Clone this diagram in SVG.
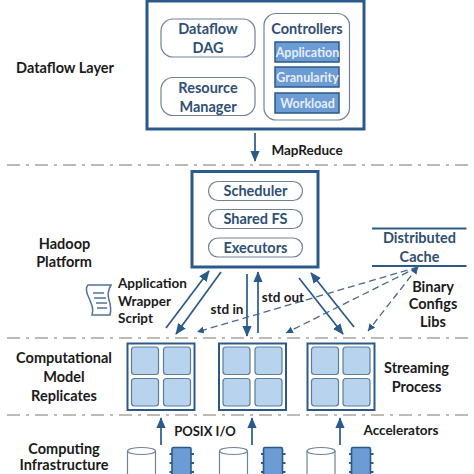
<svg xmlns="http://www.w3.org/2000/svg" width="474" height="474" viewBox="0 0 474 474">
<style>
text{font-family:Lato,"Liberation Sans",sans-serif;font-weight:700;text-anchor:middle}
.k{fill:#1a1a1a;font-size:14.5px}
.s{fill:#1a1a1a;font-size:13.5px}
.b{fill:#2f4f74;font-size:14.5px}
.w{fill:#e4eefa;font-size:12.5px}
.div{fill:none;stroke:#a8a29c;stroke-width:1.6;stroke-dasharray:13 6 3 6}
.big{fill:#fff;stroke:#2a5a8a;stroke-width:3}
.rr{fill:#fff;stroke:#6f8398;stroke-width:1.2}
.ctl{fill:#6d9bd3;stroke:#2a5a8a;stroke-width:1.5}
.cell{fill:#b8d3ee;stroke:#5d7d9c;stroke-width:1.2}
.gbox{fill:#fff;stroke:#2a5a8a;stroke-width:2}
.ln{fill:none;stroke:#2a5a8a;stroke-width:1.7}
.ds{fill:none;stroke:#4a6a8a;stroke-width:1.3;stroke-dasharray:7 4}
.cyl{fill:#fff;stroke:#6f8398;stroke-width:1.2}
.chip{fill:#6d9bd3;stroke:#2a5a8a;stroke-width:1.6}
.pin{stroke:#2a5a8a;stroke-width:1.8}
</style>
<defs>
<marker id="a" markerUnits="userSpaceOnUse" markerWidth="11" markerHeight="15" refX="12" refY="5.5" orient="auto" viewBox="0 0 13 11"><path d="M0 0L13 5.5L0 11z" fill="#2a5a8a"/></marker>
<marker id="d" markerUnits="userSpaceOnUse" markerWidth="7" markerHeight="7" refX="6" refY="3" orient="auto" viewBox="0 0 6 6"><path d="M0 0L6 3L0 6z" fill="#2a5a8a"/></marker>
<marker id="ds" markerUnits="userSpaceOnUse" markerWidth="7" markerHeight="7" refX="0" refY="3" orient="auto" viewBox="0 0 6 6"><path d="M6 0L0 3L6 6z" fill="#2a5a8a"/></marker>
</defs>
<g id="dividers">
<path class="div" d="M7 165H474M7 338H474M7 415H474"/>
</g>
<g id="dataflow-layer">
<rect class="big" x="147" y="1" width="217" height="128"/>
<text class="k" x="65" y="73">Dataflow Layer</text>
</g>
<g id="dataflow-dag">
<rect class="rr" x="161" y="19" width="94" height="38" rx="12"/>
<text class="b" x="208" y="34">Dataflow</text><text class="b" x="208" y="53">DAG</text>
</g>
<g id="resource-manager">
<rect class="rr" x="161" y="77.500" width="94" height="38" rx="12"/>
<text class="b" x="208" y="92.500">Resource</text><text class="b" x="208" y="111.500">Manager</text>
</g>
<g id="controllers">
<rect class="rr" x="264" y="13.500" width="85.500" height="106.500" rx="12"/>
<text class="b" x="307" y="34">Controllers</text>
<rect class="ctl" x="275" y="42" width="64" height="20"/><text class="w" x="307.500" y="57">Application</text>
<rect class="ctl" x="275" y="67" width="64" height="20"/><text class="w" x="307.500" y="82">Granularity</text>
<rect class="ctl" x="275" y="93" width="64" height="20"/><text class="w" x="307.500" y="108">Workload</text>
</g>
<g id="hadoop-platform">
<rect class="big" x="192" y="171.500" width="126" height="95.500"/>
<text class="k" x="64.500" y="249">Hadoop</text><text class="k" x="64" y="267">Platform</text>
</g>
<g id="scheduler"><rect class="rr" x="208.500" y="181.500" width="94" height="19" rx="9.500"/><text class="b" x="255.500" y="196">Scheduler</text></g>
<g id="shared-fs"><rect class="rr" x="208.500" y="209.500" width="94" height="19" rx="9.500"/><text class="b" x="255.500" y="224">Shared FS</text></g>
<g id="executors"><rect class="rr" x="208.500" y="238" width="94" height="19" rx="9.500"/><text class="b" x="255.500" y="252.500">Executors</text></g>
<g id="distributed-cache">
<path d="M372 228.500H466.500M372 266H466.500" fill="none" stroke="#2a5a8a" stroke-width="1.8"/>
<text class="b" x="419.500" y="243">Distributed</text><text class="b" x="419.500" y="262">Cache</text>
</g>
<g id="wrapper-script">
<path d="M88 285H111C108 290 107 294 109 300C111 306 111 311 110 315H92C94 310 92 305 89 298C86 292 85 288 88 285Z" fill="#fff" stroke="#4f7396" stroke-width="1.5"/>
<path d="M93 293H104M94 298H106M96 303H107M97 308H107" stroke="#4f7396" stroke-width="1.4"/>
<text class="s" x="118" y="288" style="text-anchor:start">Application</text><text class="s" x="118" y="306" style="text-anchor:start">Wrapper</text><text class="s" x="118" y="323" style="text-anchor:start">Script</text>
</g>
<g id="connectors">
<path class="ln" marker-end="url(#a)" d="M255 133V161"/>
<path class="ln" marker-end="url(#a)" d="M166 328L209 271"/>
<path class="ln" marker-end="url(#a)" d="M221 272L176 334"/>
<path class="ln" marker-end="url(#a)" d="M247 274V336"/>
<path class="ln" marker-end="url(#a)" d="M258 333V272"/>
<path class="ln" marker-end="url(#a)" d="M299 278L343 334"/>
<path class="ln" marker-end="url(#a)" d="M354 327L311 273"/>
<path class="ds" marker-end="url(#d)" d="M418 267L197 332"/>
<path class="ds" marker-end="url(#d)" d="M418 267L286 333"/>
<path class="ds" marker-start="url(#ds)" marker-end="url(#d)" d="M418 267L368 331"/>
<path class="ln" marker-end="url(#a)" d="M161 445V418"/>
<path class="ln" marker-end="url(#a)" d="M252 445V418"/>
<path class="ln" marker-end="url(#a)" d="M340 445V418"/>
</g>
<g id="labels">
<text class="s" x="307" y="155">MapReduce</text>
<text class="s" x="227" y="314">std in</text>
<text class="s" x="283" y="302">std out</text>
<text class="k" x="433" y="292">Binary</text><text class="k" x="433" y="309">Configs</text><text class="k" x="433" y="327">Libs</text>
<text class="s" x="205" y="436" style="font-size:13px">POSIX I/O</text>
<text class="s" x="401" y="435">Accelerators</text>
</g>
<g id="replicates-label">
<text class="k" x="64" y="363">Computational</text><text class="k" x="64" y="382">Model</text><text class="k" x="64" y="401">Replicates</text>
</g>
<g id="streaming-label">
<text class="k" x="416.500" y="373">Streaming</text><text class="k" x="416.500" y="392">Process</text>
</g>
<g id="infrastructure-label">
<text class="k" x="64" y="454">Computing</text><text class="k" x="64" y="470">Infrastructure</text>
</g>
<g id="replica-1">
<rect class="gbox" x="127.500" y="343.500" width="67" height="66.500"/>
<rect class="cell" x="131.500" y="347" width="27" height="27.500" rx="3"/><rect class="cell" x="163.500" y="347" width="27" height="27.500" rx="3"/>
<rect class="cell" x="131.500" y="378.500" width="27" height="27.500" rx="3"/><rect class="cell" x="163.500" y="378.500" width="27" height="27.500" rx="3"/>
</g>
<g id="replica-2">
<rect class="gbox" x="219" y="343.500" width="67" height="66.500"/>
<rect class="cell" x="223" y="347" width="27" height="27.500" rx="3"/><rect class="cell" x="255" y="347" width="27" height="27.500" rx="3"/>
<rect class="cell" x="223" y="378.500" width="27" height="27.500" rx="3"/><rect class="cell" x="255" y="378.500" width="27" height="27.500" rx="3"/>
</g>
<g id="replica-3">
<rect class="gbox" x="307.500" y="343.500" width="67" height="66.500"/>
<rect class="cell" x="311.500" y="347" width="27" height="27.500" rx="3"/><rect class="cell" x="343" y="347" width="27" height="27.500" rx="3"/>
<rect class="cell" x="311.500" y="378.500" width="27" height="27.500" rx="3"/><rect class="cell" x="343" y="378.500" width="27" height="27.500" rx="3"/>
</g>
<g id="storage-1"><path class="cyl" d="M127.500 451V480H155.500V451"/><ellipse class="cyl" cx="141.500" cy="451" rx="14" ry="3.500"/></g>
<g id="storage-2"><path class="cyl" d="M219.500 451V480H247.500V451"/><ellipse class="cyl" cx="233.500" cy="451" rx="14" ry="3.500"/></g>
<g id="storage-3"><path class="cyl" d="M307 451V480H335V451"/><ellipse class="cyl" cx="321" cy="451" rx="14" ry="3.500"/></g>
<g id="chip-1"><rect class="chip" x="172" y="447.500" width="19" height="33" rx="1.500"/><path class="pin" d="M169.500 454H172M169.500 463H172M169.500 472H172M191 454H194M191 463H194M191 472H194"/></g>
<g id="chip-2"><rect class="chip" x="263.500" y="447.500" width="19" height="33" rx="1.500"/><path class="pin" d="M261 454H263.500M261 463H263.500M261 472H263.500M282.500 454H285.500M282.500 463H285.500M282.500 472H285.500"/></g>
<g id="chip-3"><rect class="chip" x="351.500" y="447.500" width="19" height="33" rx="1.500"/><path class="pin" d="M349 454H351.500M349 463H351.500M349 472H351.500M370.500 454H373.500M370.500 463H373.500M370.500 472H373.500"/></g>
</svg>
